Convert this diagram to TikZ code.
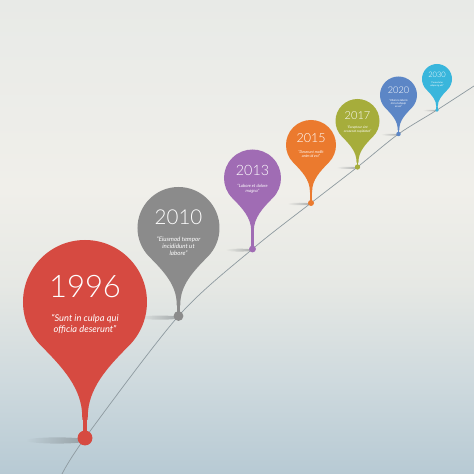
\documentclass[tikz,border=0pt]{standalone}
\usepackage{fontspec}
\setmainfont{Lato}
\newfontfamily\yearfont{Lato Light}
\usetikzlibrary{calc,fadings}

\definecolor{pinred}{HTML}{D64A41}
\definecolor{pingray}{HTML}{8B8B8B}
\definecolor{pinpurple}{HTML}{A06CB4}
\definecolor{pinorange}{HTML}{EB7A2E}
\definecolor{pinolive}{HTML}{A6AD3B}
\definecolor{pinblue}{HTML}{5C86C6}
\definecolor{pincyan}{HTML}{39B6DC}
\definecolor{bgtop}{HTML}{E8EAE7}
\definecolor{bgcream}{HTML}{F0EFEA}
\definecolor{bgmid}{HTML}{E6E8E4}
\definecolor{bglow}{HTML}{CFDADE}
\definecolor{bgbottom}{HTML}{B7CAD4}
\definecolor{linegray}{HTML}{8E9AA0}
\definecolor{pinshadow}{HTML}{6F7477}

\pgfdeclareverticalshading{backdrop}{100bp}{color(0bp)=(bgbottom); color(25bp)=(bgbottom); color(35bp)=(bglow); color(45bp)=(bgmid); color(55bp)=(bgcream); color(75bp)=(bgtop); color(100bp)=(bgtop)}
\tikzfading[name=fadeleft, left color=transparent!100, right color=transparent!0]

\newcommand{\timepin}[4]{%
  \pgfmathsetmacro{\yearsize}{0.5*#3}%
  \pgfmathsetmacro{\quotesize}{0.15*#3}%
  \pgfmathsetmacro{\quoteskip}{0.18*#3}%
  \fill[pinshadow, path fading=fadeleft, opacity=0.55]
    ($(d#1)+(-0.45*#3,-0.04*#3)$) ellipse[x radius=0.5*#3, y radius=0.05*#3];
  \begin{scope}[shift={(c#1)}, scale=#3]
    \fill[#2] (0.707,-0.707) arc[start angle=-45, end angle=225, radius=1]
      .. controls (-0.354,-1.061) and (-0.045,-1.4) .. (-0.045,-1.85)
      -- (-0.04,-1.9) -- (0.04,-1.9) -- (0.045,-1.85)
      .. controls (0.045,-1.4) and (0.354,-1.061) .. cycle;
  \end{scope}
  \draw[#2, line width=0.075*#3] ($(c#1)+(0,-1.85*#3)$) -- (d#1);
  \fill[#2] (d#1) circle[radius=0.12*#3];
  \node[yearlabel, font={\yearfont\fontsize{\yearsize}{\yearsize}\selectfont}] (y#1)
    at ($(c#1)+(0,0.08*#3)$) {#1};
  \node[quotelabel, font={\itshape\fontsize{\quotesize}{\quoteskip}\selectfont}] (q#1)
    at ($(c#1)+(0,-0.2*#3)$) {#4};
}

\begin{document}
\begin{tikzpicture}[x=1pt, y=1pt]
  \tikzset{yearlabel/.style={text=white, anchor=base, inner sep=0pt},
    quotelabel/.style={text=white, anchor=north, align=center, inner sep=0pt},
    timeline/.style={linegray, line width=0.7pt}}
  \useasboundingbox (0,0) rectangle (474,474);
  \fill[shading=backdrop] (0,0) rectangle (474,474);

  \coordinate (tstart) at (62,0);
  \coordinate (c1996) at (85,172);
  \coordinate (d1996) at (85,36);
  \coordinate (c2010) at (178.5,246);
  \coordinate (d2010) at (178.5,158);
  \coordinate (c2013) at (252.5,296);
  \coordinate (d2013) at (252.5,225);
  \coordinate (c2015) at (311,329);
  \coordinate (d2015) at (311,271);
  \coordinate (c2017) at (357.5,353);
  \coordinate (d2017) at (357.5,307);
  \coordinate (c2020) at (398.5,379);
  \coordinate (d2020) at (398.5,340);
  \coordinate (c2030) at (437,395);
  \coordinate (d2030) at (437,364);
  \coordinate (tend) at (474,388);

  \draw[timeline] plot[smooth, tension=0.5] coordinates {(tstart) (d1996) (d2010) (d2013) (d2015) (d2017) (d2020) (d2030) (tend)};

  \timepin{2030}{pincyan}{15}{``Consectetur\\adipiscing elit''}
  \timepin{2020}{pinblue}{18.5}{``Ullamco laboris\\nisi ut aliquip\\ex ea''}
  \timepin{2017}{pinolive}{22}{``Excepteur sint\\occaecat cupidatat''}
  \timepin{2015}{pinorange}{25}{``Deserunt mollit\\anim id est''}
  \timepin{2013}{pinpurple}{28.5}{``Labore et dolore\\magna''}
  \timepin{2010}{pingray}{41}{``Eiusmod tempor\\incididunt ut\\labore''}
  \timepin{1996}{pinred}{62}{``Sunt in culpa qui\\officia deserunt''}
\end{tikzpicture}
\end{document}
